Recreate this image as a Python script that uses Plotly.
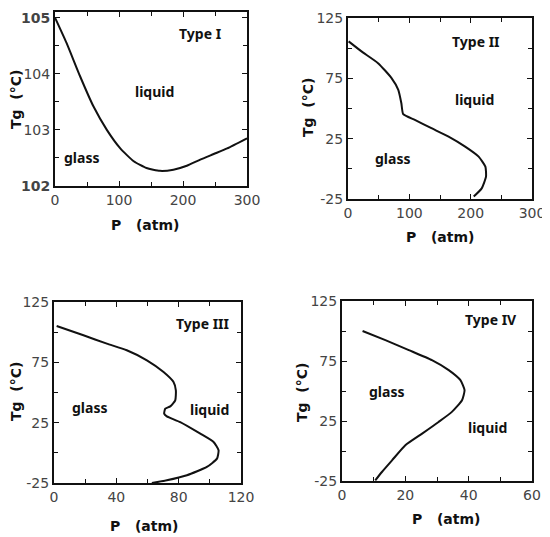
import plotly.graph_objects as go

# Type I  (Tg vs P)
p1 = [0, 18, 39, 60, 81, 102, 123, 143, 164, 185, 206, 227, 248, 269, 300]
tg1 = [105.0, 104.55, 103.96, 103.42, 103.0, 102.67, 102.44, 102.32, 102.27,
       102.29, 102.36, 102.47, 102.57, 102.67, 102.85]

# Type II
p2 = [1, 22, 49, 71, 82, 87, 90, 109, 136, 164, 191, 213, 224, 225, 218, 205]
tg2 = [105.6, 97.3, 87.6, 75.2, 65.5, 54.4, 45.3, 40.6, 33.7, 26.7, 18.4,
       10.1, 1.8, -6.5, -16.2, -23.0]

# Type III
p3 = [1.7, 18.9, 33.9, 46.7, 59.6, 70.3, 76.7, 78.2, 77.8, 74.6, 71.4, 70.7,
      72.4, 81.0, 93.9, 102.4, 105.6, 104.6, 98.1, 85.3, 72.4, 62.8]
tg3 = [105.1, 97.4, 90.5, 85.0, 76.7, 67.0, 58.7, 51.8, 43.5, 38.5, 36.6, 32.5,
       30.2, 25.5, 15.9, 9.0, 2.1, -4.8, -11.7, -18.6, -22.8, -25.0]

# Type IV
p4 = [6.5, 13.7, 21.1, 28.4, 33.7, 37.4, 38.7, 37.9, 34.7, 30.5, 25.3, 20.0,
      15.8, 12.6, 10.5]
tg4 = [100.0, 92.4, 84.1, 75.7, 67.4, 59.0, 50.7, 42.3, 32.6, 24.2, 14.5, 4.8,
       -7.8, -17.5, -24.5]

# page body adds an 8px margin, so the figure is made smaller and positions offset
OFF = 8
W, H = 550 - OFF, 537 - OFF


def px_x(v):
    return (v - OFF) / W


def px_y(v):
    return 1 - (v - OFF) / H


panels = [
    dict(x=p1, y=tg1, xr=[0, 300], xd=100, yr=[102, 105.1], yd=1,
         yticks=[102, 103, 104, 105], ylabels=['<b>102</b>', '103', '104', '<b>105</b>'],
         xdom=[55, 247], ydom=[12, 186], ytitle=(16, 100), xtitle=(145, 225),
         notes=[('Type I', 227, 104.71), ('liquid', 156, 103.68), ('glass', 42, 102.5)]),
    dict(x=p2, y=tg2, xr=[0, 300], xd=100, yr=[-25, 125], yd=50,
         yticks=[-25, 25, 75, 125], ylabels=['-25', '25', '75', '125'],
         xdom=[348, 532], ydom=[18, 199], ytitle=(308, 108), xtitle=(440, 237),
         notes=[('Type II', 208, 105.6), ('liquid', 206, 57.2), ('glass', 72, 8.8)]),
    dict(x=p3, y=tg3, xr=[0, 120], xd=40, yr=[-25, 125], yd=50,
         yticks=[-25, 25, 75, 125], ylabels=['-25', '25', '75', '125'],
         xdom=[54, 241], ydom=[302, 483], ytitle=(16, 392), xtitle=(144, 526),
         notes=[('Type III', 95, 107.6), ('glass', 22.7, 37.2), ('liquid', 100, 35.8)]),
    dict(x=p4, y=tg4, xr=[0, 60], xd=20, yr=[-25, 125], yd=50,
         yticks=[-25, 25, 75, 125], ylabels=['-25', '25', '75', '125'],
         xdom=[342, 532], ydom=[301, 481], ytitle=(302, 393), xtitle=(446, 519),
         notes=[('Type IV', 47.2, 109.7), ('glass', 14, 49.3), ('liquid', 45.8, 20)]),
]

fig = go.Figure()
layout = dict(
    width=W, height=H,
    margin=dict(l=0, r=0, t=0, b=0),
    paper_bgcolor='white', plot_bgcolor='white',
    showlegend=False,
    font=dict(family='DejaVu Sans', size=13, color='#222'),
)
annotations = []
title_font = dict(family='DejaVu Sans', size=14, color='#111')

for i, pn in enumerate(panels, start=1):
    sfx = '' if i == 1 else str(i)
    fig.add_trace(go.Scatter(x=pn['x'], y=pn['y'], mode='lines',
                             line=dict(color='#111', width=2, shape='spline', smoothing=0.5),
                             xaxis='x' + sfx, yaxis='y' + sfx))
    layout['xaxis' + sfx] = dict(
        domain=[px_x(pn['xdom'][0]), px_x(pn['xdom'][1])], anchor='y' + sfx,
        range=pn['xr'], dtick=pn['xd'], tick0=0, automargin=False,
        showgrid=False, zeroline=False, showline=True, linecolor='#111', linewidth=2,
        mirror='allticks', ticks='inside', ticklen=5, tickcolor='#111',
        minor=dict(ticks='inside', ticklen=4, dtick=pn['xd'] / 2, tickcolor='#111', showgrid=False),
        tickfont=dict(family='DejaVu Sans', size=14, color='#444'),
    )
    layout['yaxis' + sfx] = dict(
        domain=[px_y(pn['ydom'][1]), px_y(pn['ydom'][0])], anchor='x' + sfx,
        range=pn['yr'], tickvals=pn['yticks'], ticktext=pn['ylabels'], automargin=False,
        showgrid=False, zeroline=False, showline=True, linecolor='#111', linewidth=2,
        mirror='allticks', ticks='inside', ticklen=5, tickcolor='#111',
        minor=dict(ticks='inside', ticklen=4, dtick=pn['yd'] / 2,
                   tick0=pn['yticks'][0], tickcolor='#111', showgrid=False),
        tickfont=dict(family='DejaVu Sans', size=14, color='#444'),
    )
    # axis titles placed in paper space
    tx, ty = pn['ytitle']
    annotations.append(dict(text='<b>Tg  (°C)</b>', x=px_x(tx), y=px_y(ty),
                            xref='paper', yref='paper', xanchor='center', yanchor='middle',
                            showarrow=False, textangle=-90, font=title_font))
    tx, ty = pn['xtitle']
    annotations.append(dict(text='<b>P   (atm)</b>', x=px_x(tx), y=px_y(ty),
                            xref='paper', yref='paper', xanchor='center', yanchor='middle',
                            showarrow=False, font=title_font))
    for txt, ax_x, ax_y in pn['notes']:
        annotations.append(dict(text='<b>' + txt + '</b>', x=ax_x, y=ax_y,
                                xref='x' + sfx, yref='y' + sfx, showarrow=False,
                                font=dict(family='Noto Sans', size=14, color='#111')))

layout['annotations'] = annotations
fig.update_layout(**layout)
fig.write_html("out.html")
